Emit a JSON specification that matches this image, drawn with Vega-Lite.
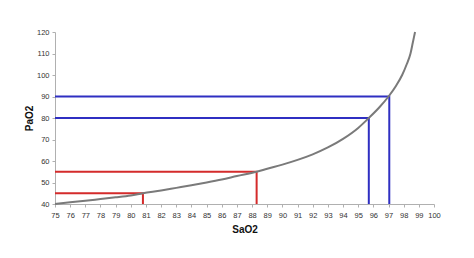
{
  "$schema": "https://vega.github.io/schema/vega-lite/v6.json",
  "width": 379,
  "height": 172,
  "autosize": "none",
  "padding": {"left": 55, "top": 32, "right": 40, "bottom": 54},
  "background": "white",
  "config": {
    "view": {"stroke": null},
    "font": "Liberation Sans",
    "axis": {
      "grid": false,
      "domainColor": "#b0b0b0",
      "tickColor": "#b0b0b0",
      "tickSize": 3,
      "labelFont": "Liberation Sans",
      "labelFontSize": 7.5,
      "labelColor": "#333333",
      "titleFont": "Liberation Sans",
      "titleFontSize": 10,
      "titleFontWeight": "bold",
      "titleColor": "#111111"
    }
  },
  "datasets": {
    "curve": [
      {"s": 75, "p": 40},
      {"s": 76, "p": 40.8},
      {"s": 77, "p": 41.5},
      {"s": 78, "p": 42.3},
      {"s": 79, "p": 43.1},
      {"s": 80, "p": 44},
      {"s": 80.8, "p": 45},
      {"s": 82, "p": 46.3},
      {"s": 83, "p": 47.5},
      {"s": 84, "p": 48.7},
      {"s": 85, "p": 50},
      {"s": 86, "p": 51.4},
      {"s": 87, "p": 53},
      {"s": 88.3, "p": 55},
      {"s": 89, "p": 56.4},
      {"s": 90, "p": 58.3},
      {"s": 91, "p": 60.5},
      {"s": 92, "p": 63.1},
      {"s": 93, "p": 66.3},
      {"s": 94, "p": 70.3},
      {"s": 95, "p": 75.4},
      {"s": 95.7, "p": 80},
      {"s": 96.4, "p": 85},
      {"s": 97, "p": 90},
      {"s": 97.5, "p": 95},
      {"s": 97.9, "p": 100},
      {"s": 98.2, "p": 105},
      {"s": 98.45, "p": 110},
      {"s": 98.6, "p": 115},
      {"s": 98.75, "p": 120}
    ],
    "refs": [
      {"g": "a", "c": "red", "o": 1, "s": 75, "p": 45},
      {"g": "a", "c": "red", "o": 2, "s": 80.8, "p": 45},
      {"g": "a", "c": "red", "o": 3, "s": 80.8, "p": 40},
      {"g": "b", "c": "red", "o": 1, "s": 75, "p": 55},
      {"g": "b", "c": "red", "o": 2, "s": 88.3, "p": 55},
      {"g": "b", "c": "red", "o": 3, "s": 88.3, "p": 40},
      {"g": "c", "c": "blue", "o": 1, "s": 75, "p": 80},
      {"g": "c", "c": "blue", "o": 2, "s": 95.7, "p": 80},
      {"g": "c", "c": "blue", "o": 3, "s": 95.7, "p": 40},
      {"g": "d", "c": "blue", "o": 1, "s": 75, "p": 90},
      {"g": "d", "c": "blue", "o": 2, "s": 97.05, "p": 90},
      {"g": "d", "c": "blue", "o": 3, "s": 97.05, "p": 40}
    ]
  },
  "encoding": {
    "x": {"field": "s", "type": "quantitative", "scale": {"domain": [75, 100], "nice": false}, "axis": {"title": "SaO2", "values": [75,76,77,78,79,80,81,82,83,84,85,86,87,88,89,90,91,92,93,94,95,96,97,98,99,100], "labelOverlap": false, "labelFlush": false, "labelPadding": 4, "titlePadding": 6}},
    "y": {"field": "p", "type": "quantitative", "scale": {"domain": [40, 120], "nice": false, "zero": false}, "axis": {"title": "PaO2", "values": [40,50,60,70,80,90,100,110,120], "labelOverlap": false, "labelFlush": false, "labelPadding": 3, "titlePadding": 2}}
  },
  "layer": [
    {
      "data": {"name": "refs"},
      "mark": {"type": "line", "strokeWidth": 2, "interpolate": "linear"},
      "encoding": {
        "detail": {"field": "g"},
        "order": {"field": "o"},
        "color": {"field": "c", "type": "nominal", "scale": {"domain": ["red", "blue"], "range": ["#d42b2b", "#2f2fc2"]}, "legend": null}
      }
    },
    {
      "data": {"name": "curve"},
      "mark": {"type": "line", "strokeWidth": 2, "color": "#7a7a7a", "interpolate": "monotone"},
      "encoding": {}
    }
  ]
}
